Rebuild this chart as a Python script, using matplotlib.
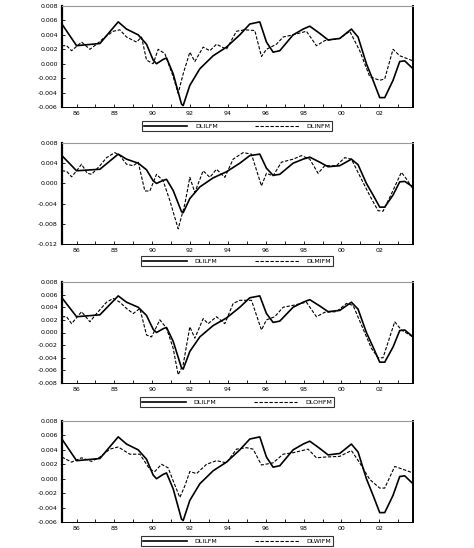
import matplotlib
matplotlib.use("Agg")
import matplotlib.pyplot as plt
import numpy as np

# x positions read as pixel columns of the reference, converted to years below
zx0 = [186,230,300,355,380,415,440,460,470,490,500,520,545,550,570,600,640,680,720,750,780,800,820,840,880,910,930,960,985,1020,1055,1075,1100,1120,1140,1155,1180,1200,1215,1240]
DLILFM = [0.0055,0.0025,0.0028,0.0058,0.0048,0.0040,0.0027,0.0005,0.0,0.0006,0.0008,-0.0014,-0.0056,-0.0058,-0.0030,-0.0007,0.0011,0.0023,0.0040,0.0055,0.0058,0.0030,0.0016,0.0018,0.0040,0.0048,0.0052,0.0042,0.0033,0.0035,0.0048,0.0037,0.0,-0.0023,-0.0047,-0.0047,-0.0023,0.0003,0.0004,-0.0007]

zx1 = [186,200,215,245,270,290,310,340,360,380,410,425,440,460,475,495,520,535,550,570,585,610,630,650,680,710,735,765,785,800,830,850,880,920,950,975,1020,1050,1080,1110,1140,1155,1180,1200,1240]
DLINFM = [0.0025,0.0025,0.0018,0.0030,0.0020,0.0027,0.0035,0.0045,0.0047,0.0037,0.0030,0.0037,0.0005,0.0,0.0020,0.0014,-0.0018,-0.0041,-0.0014,0.0016,0.0003,0.0023,0.0018,0.0027,0.0020,0.0045,0.0047,0.0046,0.0010,0.0020,0.0027,0.0037,0.0040,0.0045,0.0025,0.0032,0.0035,0.0045,0.0018,-0.0018,-0.0023,-0.0021,0.0020,0.0011,0.0004]

zx2 = [186,200,215,230,245,262,275,300,320,345,360,380,400,415,435,450,470,490,510,535,555,570,585,610,630,650,675,700,730,755,785,800,820,845,880,905,930,955,975,1010,1035,1055,1080,1110,1135,1150,1175,1205,1220,1240]
DLMIFM = [0.0025,0.0024,0.0013,0.0025,0.0038,0.0020,0.0018,0.0035,0.0051,0.0061,0.0055,0.0038,0.0035,0.0042,-0.0015,-0.0015,0.0018,0.0005,-0.0034,-0.0090,-0.0041,0.0012,-0.0018,0.0025,0.0012,0.0028,0.0012,0.0048,0.0061,0.0058,-0.0005,0.0020,0.0015,0.0042,0.0048,0.0055,0.0048,0.0020,0.0035,0.0035,0.0051,0.0048,0.0015,-0.0024,-0.0054,-0.0055,-0.0021,0.0022,0.0009,-0.0011]

zx3 = [186,200,215,245,270,290,320,340,360,380,400,420,440,455,480,500,520,535,550,570,585,610,625,650,675,700,720,755,785,800,825,850,880,920,950,975,1010,1040,1060,1085,1115,1135,1150,1185,1205,1240]
DLOHFM = [0.0025,0.0025,0.0014,0.0033,0.0017,0.0030,0.0048,0.0054,0.0048,0.0038,0.0030,0.0038,-0.0004,-0.0007,0.0020,0.0007,-0.0025,-0.0067,-0.0051,0.0009,-0.0009,0.0022,0.0014,0.0025,0.0014,0.0046,0.0051,0.0051,0.0004,0.0020,0.0025,0.0040,0.0043,0.0048,0.0025,0.0032,0.0033,0.0046,0.0043,0.0012,-0.0025,-0.0040,-0.0040,0.0017,0.0004,-0.0007]

zx4 = [186,215,245,275,300,330,355,390,420,450,465,485,505,520,540,555,570,590,620,650,680,710,740,760,785,820,850,880,925,950,975,1020,1055,1080,1110,1140,1155,1185,1210,1240]
DLWIFM = [0.0030,0.0023,0.0029,0.0024,0.0030,0.0041,0.0044,0.0034,0.0034,0.0013,0.0010,0.0020,0.0015,-0.0003,-0.0026,-0.0010,0.0010,0.0007,0.0020,0.0025,0.0022,0.0041,0.0043,0.0041,0.0019,0.0022,0.0034,0.0036,0.0041,0.0029,0.0030,0.0031,0.0039,0.0022,-0.0001,-0.0013,-0.0013,0.0017,0.0013,0.0008]

def yr(z):
    return 1986 + (np.asarray(z) - 230) / 56.8

panels = [
    ("DLINFM", zx1, DLINFM, (-0.006, 0.008), [-0.006,-0.004,-0.002,0,0.002,0.004,0.006,0.008]),
    ("DLMIFM", zx2, DLMIFM, (-0.012, 0.008), [-0.012,-0.008,-0.004,0,0.004,0.008]),
    ("DLOHFM", zx3, DLOHFM, (-0.008, 0.008), [-0.008,-0.006,-0.004,-0.002,0,0.002,0.004,0.006,0.008]),
    ("DLWIFM", zx4, DLWIFM, (-0.006, 0.008), [-0.006,-0.004,-0.002,0,0.002,0.004,0.006,0.008]),
]
xlabels = ["86","88","90","92","94","96","98","00","02"]
xticks_lab = [1986,1988,1990,1992,1994,1996,1998,2000,2002]

W, H = 474, 548
fig = plt.figure(figsize=(W/100, H/100), dpi=100)
tops = [6, 143, 282, 421]
legy = [126, 261, 402, 541]
for i, (name, zx, vals, ylim, yt) in enumerate(panels):
    top = tops[i]; bot = top + 101
    ax = fig.add_axes([62/W, 1-bot/H, (413-62)/W, 101/H])
    ax.plot(yr(zx0), DLILFM, color="black", lw=1.2, label="DLILFM")
    ax.plot(yr(zx), vals, color="black", lw=0.8, ls=(0, (3, 1.5)), label=name)
    ax.set_xlim(1985.23, 2003.78)
    ax.set_ylim(*ylim)
    ax.set_yticks(yt)
    ax.set_yticklabels([f"{v:.3f}" for v in yt], fontsize=4.5)
    ax.set_xticks(xticks_lab)
    ax.set_xticks(np.arange(1987, 2004, 2), minor=True)
    ax.set_xticklabels(xlabels, fontsize=4.5)
    ax.tick_params(axis="both", direction="in", length=2.5, width=0.6, pad=3)
    ax.tick_params(axis="x", which="minor", direction="in", length=2.5, width=0.6)
    ax.spines["left"].set_linewidth(1.6)
    ax.spines["right"].set_linewidth(1.4)
    ax.spines["top"].set_color("#999999")
    ax.spines["bottom"].set_linewidth(0.7)
    leg = fig.legend(handles=ax.get_lines(), loc="center",
                     bbox_to_anchor=(237/W, 1-legy[i]/H), ncol=2, fontsize=4.5,
                     frameon=True, fancybox=False, edgecolor="black",
                     handlelength=7, columnspacing=6, borderpad=0.3, handletextpad=1.2)
    leg.get_frame().set_linewidth(0.8)

fig.savefig("out.png", dpi=100)
